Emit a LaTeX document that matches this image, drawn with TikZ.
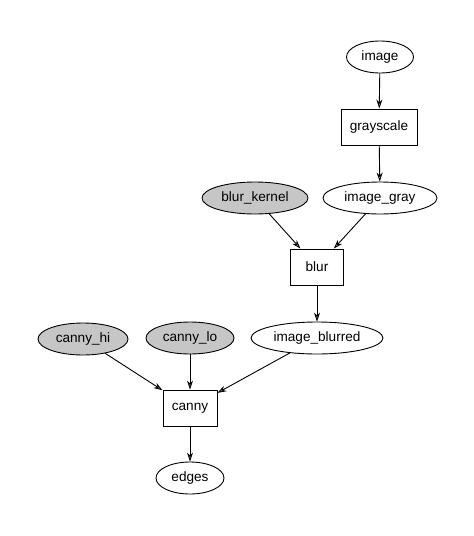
\documentclass[tikz,border=0pt]{standalone}
\usepackage{fontspec}
\setmainfont{Liberation Sans}
\usetikzlibrary{arrows.meta,shapes.geometric}
\begin{document}
\begin{tikzpicture}[x=1pt,y=-1pt,
  base/.style={draw=black,line width=0.9pt,inner sep=0pt,font=\fontsize{13.6}{16}\selectfont},
  data/.style={base,ellipse,minimum height=32pt},
  param/.style={data,fill=gray!45},
  op/.style={base,rectangle,minimum height=36pt},
  conn/.style={line width=0.9pt,-{Stealth[length=9pt,width=6pt,fill=gray!60]}}]
\useasboundingbox (0,0) rectangle (474,536);
\node[data,minimum width=67pt] (image) at (380,57) {image};
\node[op,minimum width=76pt] (grayscale) at (379,127) {grayscale};
\node[data,minimum width=114pt] (imggray) at (380,198) {image\_gray};
\node[param,minimum width=106pt] (kernel) at (255,198) {blur\_kernel};
\node[op,minimum width=53pt] (blur) at (317,267) {blur};
\node[data,minimum width=132pt] (imgblur) at (317,338) {image\_blurred};
\node[param,minimum width=90pt] (hi) at (83,339) {canny\_hi};
\node[param,minimum width=88pt] (lo) at (190,338) {canny\_lo};
\node[op,minimum width=54pt] (canny) at (190,408) {canny};
\node[data,minimum width=68pt] (edges) at (190,478) {edges};
\draw[conn] (image) -- (grayscale);
\draw[conn] (grayscale) -- (imggray);
\draw[conn] (kernel) -- (blur);
\draw[conn] (imggray) -- (blur);
\draw[conn] (blur) -- (imgblur);
\draw[conn] (hi) -- (canny);
\draw[conn] (lo) -- (canny);
\draw[conn] (imgblur) -- (canny);
\draw[conn] (canny) -- (edges);
\end{tikzpicture}
\end{document}
